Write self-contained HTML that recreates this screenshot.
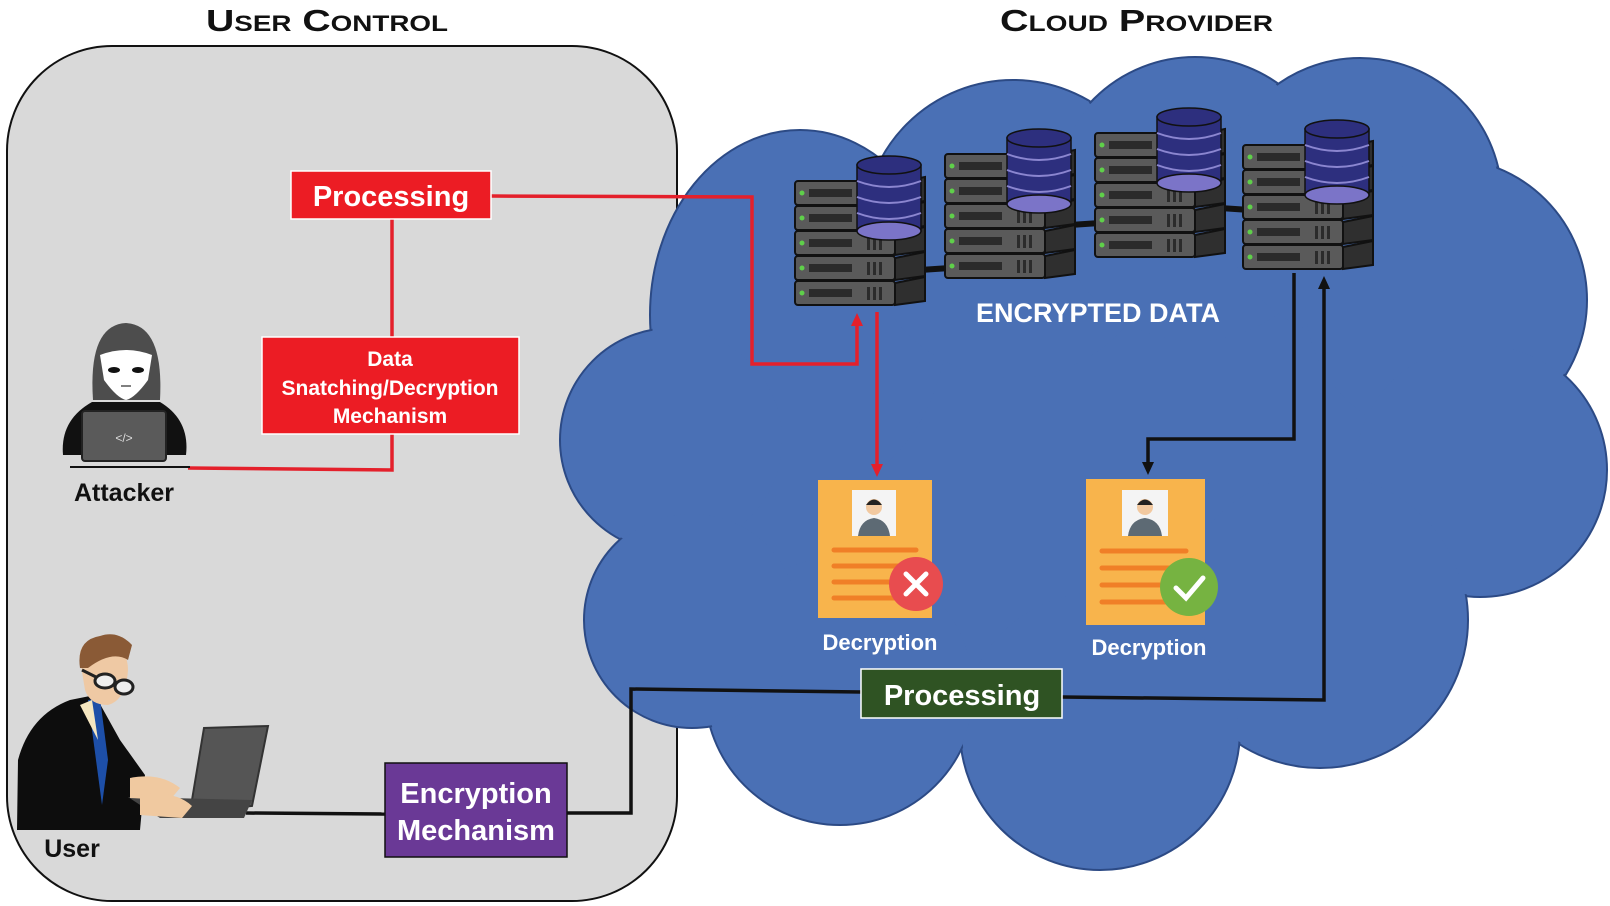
<!DOCTYPE html>
<html><head><meta charset="utf-8"><style>
html,body{margin:0;padding:0;background:#fff}
svg{display:block}
text{font-family:"Liberation Sans",sans-serif}
</style></head><body>
<svg width="1610" height="906" viewBox="0 0 1610 906" xmlns="http://www.w3.org/2000/svg">
<defs>
<g id="unit">
  <rect x="0" y="0" width="100" height="24" rx="3" fill="#5a5a5a" stroke="#111" stroke-width="2"/>
  <path d="M100 2 L130 -4 L130 20 L100 24 Z" fill="#2f2f2f" stroke="#111" stroke-width="2"/>
  <rect x="14" y="8" width="43" height="8" fill="#2b2b2b"/>
  <circle cx="7" cy="12" r="2.5" fill="#5fd04a"/>
  <rect x="72" y="6" width="3" height="13" fill="#2b2b2b"/>
  <rect x="78" y="6" width="3" height="13" fill="#2b2b2b"/>
  <rect x="84" y="6" width="3" height="13" fill="#2b2b2b"/>
</g>
<g id="srv">
  <use href="#unit" x="0" y="126"/>
  <use href="#unit" x="0" y="101"/>
  <use href="#unit" x="0" y="76"/>
  <use href="#unit" x="0" y="51"/>
  <use href="#unit" x="0" y="26"/>
  <rect x="62" y="10" width="64" height="66" fill="#2d2f7e" stroke="#111" stroke-width="1.5"/>
  <ellipse cx="94" cy="76" rx="32" ry="9" fill="#7b74c8" stroke="#111" stroke-width="1.5"/>
  <path d="M62 58 Q94 70 126 58" fill="none" stroke="#8b86d0" stroke-width="2"/>
  <path d="M62 42 Q94 54 126 42" fill="none" stroke="#8b86d0" stroke-width="2"/>
  <path d="M62 26 Q94 38 126 26" fill="none" stroke="#8b86d0" stroke-width="2"/>
  <ellipse cx="94" cy="10" rx="32" ry="9" fill="#2d2f7e" stroke="#111" stroke-width="1.5"/>
</g>
<g id="cloudc">
  <ellipse cx="800" cy="315" rx="150" ry="185"/>
  <circle cx="1013" cy="230" r="150"/>
  <circle cx="1195" cy="200" r="143"/>
  <circle cx="1360" cy="200" r="142"/>
  <circle cx="1445" cy="300" r="142"/>
  <circle cx="1480" cy="470" r="127"/>
  <circle cx="1320" cy="620" r="148"/>
  <circle cx="1100" cy="730" r="140"/>
  <circle cx="840" cy="690" r="135"/>
  <circle cx="672" cy="440" r="112"/>
  <circle cx="692" cy="620" r="108"/>
</g>
</defs>

<rect x="7" y="46" width="670" height="855" rx="105" fill="#d9d9d9" stroke="#111" stroke-width="2"/>
<text x="206" y="31" textLength="242" lengthAdjust="spacingAndGlyphs" font-size="31" font-weight="bold" style="font-variant:small-caps" fill="#111">User Control</text>
<text x="1000" y="31" textLength="273" lengthAdjust="spacingAndGlyphs" font-size="31" font-weight="bold" style="font-variant:small-caps" fill="#111">Cloud Provider</text>

<g fill="#4a70b5" stroke="#2c4a85" stroke-width="2"><use href="#cloudc"/></g>
<g fill="#4a70b5"><ellipse cx="1080" cy="450" rx="400" ry="300"/></g>
<g fill="#4a70b5" stroke="none">
  <ellipse cx="800" cy="315" rx="148" ry="183"/>
  <circle cx="1013" cy="230" r="148"/><circle cx="1195" cy="200" r="141"/>
  <circle cx="1360" cy="200" r="140"/><circle cx="1445" cy="300" r="140"/>
  <circle cx="1480" cy="470" r="125"/><circle cx="1320" cy="620" r="146"/>
  <circle cx="1100" cy="730" r="138"/><circle cx="840" cy="690" r="133"/>
  <circle cx="672" cy="440" r="110"/><circle cx="692" cy="620" r="106"/>
</g>

<g stroke="#111" stroke-width="6">
  <line x1="920" y1="270" x2="950" y2="268"/>
  <line x1="1070" y1="225" x2="1100" y2="223"/>
  <line x1="1220" y1="208" x2="1250" y2="210"/>
</g>
<use href="#srv" x="795" y="155"/>
<use href="#srv" x="945" y="128"/>
<use href="#srv" x="1095" y="107"/>
<use href="#srv" x="1243" y="119"/>

<text x="1098" y="322" text-anchor="middle" font-size="27" font-weight="bold" fill="#fff">ENCRYPTED DATA</text>

<g fill="none" stroke="#e4202b" stroke-width="3.5">
  <polyline points="491,196 752,197 752,364 857,364 857,322"/>
  <line x1="392" y1="219" x2="392" y2="337"/>
  <polyline points="392,434 392,470 188,468"/>
  <line x1="877" y1="312" x2="877" y2="466"/>
</g>
<polygon points="857,313 851,326 863,326" fill="#e4202b"/>
<polygon points="877,477 871,464 883,464" fill="#e4202b"/>

<g fill="none" stroke="#111" stroke-width="3.5">
  <polyline points="246,813 385,814"/>
  <polyline points="567,813 631,813 631,689 861,692"/>
  <polyline points="1062,697 1324,700 1324,286"/>
  <polyline points="1294,273 1294,439 1148,439 1148,466"/>
</g>
<polygon points="1324,276 1318,289 1330,289" fill="#111"/>
<polygon points="1148,475 1142,462 1154,462" fill="#111"/>

<rect x="291" y="171" width="200" height="48" fill="#ec1c24" stroke="#fff" stroke-width="1.5"/>
<text x="391" y="206" text-anchor="middle" font-size="29" font-weight="bold" fill="#fff">Processing</text>
<rect x="262" y="337" width="257" height="97" fill="#ec1c24" stroke="#fff" stroke-width="1.5"/>
<g font-size="21" font-weight="bold" fill="#fff" text-anchor="middle">
<text x="390" y="366">Data</text>
<text x="390" y="395">Snatching/Decryption</text>
<text x="390" y="423">Mechanism</text>
</g>
<rect x="385" y="763" width="182" height="94" fill="#6a3996" stroke="#111" stroke-width="1.5"/>
<g font-size="29" font-weight="bold" fill="#fff" text-anchor="middle">
<text x="476" y="803">Encryption</text>
<text x="476" y="840">Mechanism</text>
</g>
<rect x="861" y="669" width="201" height="49" fill="#2f5323" stroke="#fff" stroke-width="1.5"/>
<text x="962" y="705" text-anchor="middle" font-size="29" font-weight="bold" fill="#fff">Processing</text>

<g>
  <rect x="818" y="480" width="114" height="138" fill="#f8b44c"/>
  <rect x="852" y="490" width="44" height="46" fill="#f4f4f4"/>
  <path d="M858 536 Q860 520 874 518 Q888 520 890 536 Z" fill="#5d6a74"/>
  <circle cx="874" cy="507" r="8" fill="#f2c9a0"/><path d="M866 505 Q874 494 882 505 Z" fill="#222"/>
  <g stroke="#f07f27" stroke-width="5" stroke-linecap="round">
    <line x1="834" y1="550" x2="916" y2="550"/><line x1="834" y1="566" x2="900" y2="566"/>
    <line x1="834" y1="582" x2="900" y2="582"/><line x1="834" y1="598" x2="900" y2="598"/>
  </g>
  <circle cx="916" cy="584" r="27" fill="#e84c4f"/>
  <path d="M906 574 L926 594 M926 574 L906 594" stroke="#fff" stroke-width="5" stroke-linecap="round"/>
</g>
<g>
  <rect x="1086" y="479" width="119" height="146" fill="#f8b44c"/>
  <rect x="1122" y="490" width="46" height="46" fill="#f4f4f4"/>
  <path d="M1128 536 Q1130 520 1145 518 Q1160 520 1162 536 Z" fill="#5d6a74"/>
  <circle cx="1145" cy="507" r="8" fill="#f2c9a0"/><path d="M1137 505 Q1145 494 1153 505 Z" fill="#222"/>
  <g stroke="#f07f27" stroke-width="5" stroke-linecap="round">
    <line x1="1102" y1="551" x2="1186" y2="551"/><line x1="1102" y1="568" x2="1170" y2="568"/>
    <line x1="1102" y1="585" x2="1170" y2="585"/><line x1="1102" y1="602" x2="1170" y2="602"/>
  </g>
  <circle cx="1189" cy="587" r="29" fill="#76b341"/>
  <path d="M1176 588 L1186 598 L1203 578" fill="none" stroke="#fff" stroke-width="5" stroke-linecap="round"/>
</g>
<g font-size="22" font-weight="bold" fill="#fff" text-anchor="middle">
<text x="880" y="650">Decryption</text>
<text x="1149" y="655">Decryption</text>
</g>

<path d="M63 455 Q60 420 92 402 L160 402 Q190 420 186 455 Z" fill="#111"/>
<path d="M93 400 Q88 325 126 323 Q164 325 160 400 Z" fill="#4d4d4d"/>
<path d="M100 355 Q126 345 152 355 L148 380 Q135 398 126 400 Q117 398 104 380 Z" fill="#fff"/>
<ellipse cx="114" cy="370" rx="6" ry="3" fill="#111"/><ellipse cx="138" cy="370" rx="6" ry="3" fill="#111"/>
<line x1="121" y1="386" x2="131" y2="386" stroke="#555" stroke-width="1.5"/>
<rect x="82" y="411" width="84" height="50" rx="3" fill="#5a5a5a" stroke="#222" stroke-width="2"/>
<text x="124" y="442" text-anchor="middle" font-size="12" fill="#ddd">&lt;/&gt;</text>
<line x1="70" y1="467" x2="190" y2="467" stroke="#111" stroke-width="2"/>
<text x="124" y="501" text-anchor="middle" font-size="25" font-weight="bold" fill="#111">Attacker</text>

<path d="M17 830 L18 760 Q30 715 70 700 L95 695 L120 740 L145 775 L140 830 Z" fill="#0d0d0d"/>
<path d="M88 700 L100 698 L108 760 L102 805 L96 760 Z" fill="#1d4fa8"/>
<path d="M80 705 L92 700 L98 740 Z" fill="#f5e6c0"/>
<path d="M80 660 Q78 640 100 640 Q128 645 128 670 Q126 700 108 705 Q90 705 85 690 Z" fill="#efc9a4"/>
<path d="M80 668 Q76 640 100 636 Q118 630 132 645 L128 660 Q112 650 88 668 Z" fill="#8a5a36"/>
<g fill="none" stroke="#222" stroke-width="3">
  <ellipse cx="105" cy="681" rx="10" ry="7" fill="#eee"/>
  <ellipse cx="124" cy="687" rx="9" ry="7" fill="#eee"/>
  <line x1="82" y1="670" x2="96" y2="677"/>
</g>
<path d="M190 812 L204 728 L268 726 L252 806 Z" fill="#555" stroke="#333" stroke-width="2"/>
<path d="M128 797 L252 800 L244 818 L160 818 Z" fill="#444"/>
<path d="M130 778 Q160 772 180 788 L170 800 L130 798 Z" fill="#f0c9a0"/>
<path d="M140 795 Q175 790 192 806 L182 818 L140 815 Z" fill="#f0c9a0"/>
<text x="72" y="857" text-anchor="middle" font-size="25" font-weight="bold" fill="#111">User</text>
</svg>
</body></html>
